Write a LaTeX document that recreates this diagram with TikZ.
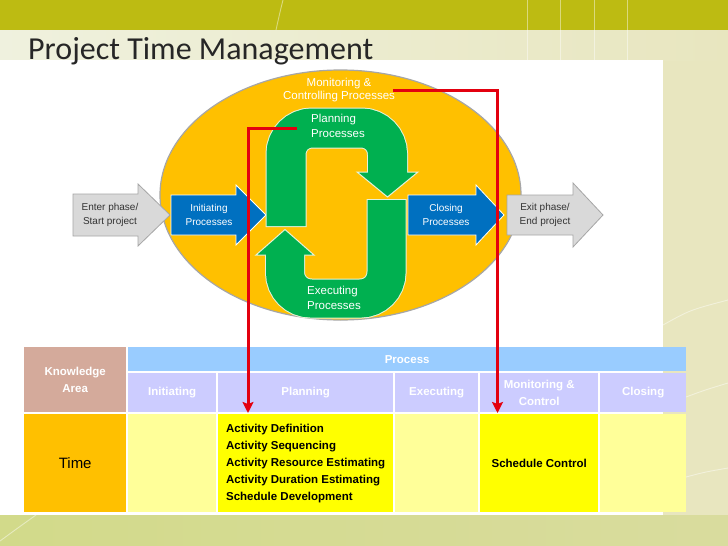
\documentclass[tikz,border=0pt]{standalone}
\usepackage{fontspec}
\setmainfont{Liberation Sans}
\newfontfamily\titlefont{Carlito}
\usetikzlibrary{arrows.meta}
\definecolor{bgOlive}{HTML}{BDBB12}
\definecolor{bgPale}{HTML}{EFF1DE}
\definecolor{bgKhaki}{HTML}{E8E6BF}
\definecolor{bgGreenL}{HTML}{D2DA8A}
\definecolor{bgGreenR}{HTML}{D9DC9E}
\definecolor{ellFill}{HTML}{FFC000}
\definecolor{ellEdge}{HTML}{A6A6A6}
\definecolor{phaseGray}{HTML}{D9D9D9}
\definecolor{phaseInk}{HTML}{333333}
\definecolor{procBlue}{HTML}{0070C0}
\definecolor{procGreen}{HTML}{00B050}
\definecolor{gEdge}{HTML}{E6F2D9}
\definecolor{redLine}{HTML}{E3000F}
\definecolor{kaRose}{HTML}{D4AA9B}
\definecolor{timeOrange}{HTML}{FFC000}
\definecolor{procSky}{HTML}{99CCFF}
\definecolor{procLav}{HTML}{CCCCFF}
\definecolor{ltYel}{HTML}{FFFF99}
\definecolor{yel}{HTML}{FFFF00}
\definecolor{titleInk}{HTML}{262626}
\tikzset{
  % block arrows of the phase flow
  ptm/phase/.style={fill=phaseGray, draw=ellEdge, line width=0.8pt},
  ptm/proc/.style={fill=procBlue, draw=white, line width=0.8pt},
  % the two green loops, drawn as thick strokes
  ptm/hand/.style={line width=39pt, line cap=butt},
  % table cells, placed by their top left corner
  ptm/cell/.style={anchor=north west, inner sep=0pt, align=center, text=white,
    font=\bfseries\fontsize{11.5}{17.5}\selectfont},
  % red pointers from the cycle down to the table
  ptm/cue/.style={draw=redLine, line width=3pt,
    -{Stealth[length=11pt,width=11pt,inset=2pt]}},
}

\begin{document}
\begin{tikzpicture}[x=1pt,y=-1pt,
  lb/.style={font=\fontsize{10}{13.5}\selectfont, align=center, inner sep=0pt},
  gl/.style={font=\fontsize{11.5}{14.5}\selectfont, text=white, align=left, inner sep=0pt},
  list/.style={align=left, inner sep=0pt, text=black, font=\bfseries\fontsize{11.5}{17}\selectfont},
  deco/.style={white, opacity=0.45, line width=0.9pt}]
  \useasboundingbox (0,0) rectangle (728,546);
  \fill[bgKhaki] (0,0) rectangle (728,546);
  \fill[bgOlive] (0,0) rectangle (728,30);
  \shade[left color=bgPale, right color=bgKhaki] (0,30) rectangle (728,60);
  \foreach \x in {527,560,594,627}{\draw[deco] (\x,0) -- (\x,60);}
  \draw[deco] (283,0) .. controls (280,12) .. (276,30);
  \draw[deco] (663,325) .. controls (690,310) .. (728,300);
  \draw[deco] (686,397) .. controls (705,390) .. (728,383);
  \draw[deco] (686,477) .. controls (705,472) .. (728,468);
  \fill[white] (0,60) rectangle (663,515);
  \shade[left color=bgGreenL, right color=bgGreenR] (0,515) rectangle (728,546);
  \draw[deco] (0,541) .. controls (15,530) .. (36,515);
  \node[anchor=base west, inner sep=0pt, text=titleInk,
        font=\titlefont\fontsize{32}{32}\selectfont] (title) at (28,59) {Project Time Management};

  \filldraw[fill=ellFill, draw=ellEdge, line width=1.2pt] (340.5,195) ellipse [x radius=180.5pt, y radius=125pt];
  \filldraw[ptm/phase] (73,194) -- (138,194) -- (138,184) -- (170,215) -- (138,246) -- (138,236) -- (73,236) -- cycle;
  \filldraw[ptm/proc] (171,195) -- (236,195) -- (236,185) -- (266,215) -- (236,245) -- (236,235) -- (171,235) -- cycle;
  \filldraw[ptm/proc] (408,195) -- (476,195) -- (476,185) -- (504,215) -- (476,245) -- (476,235) -- (408,235) -- cycle;
  \filldraw[ptm/phase] (507,195) -- (573,195) -- (573,183) -- (603,215) -- (573,247) -- (573,235) -- (507,235) -- cycle;

  \draw[ptm/hand, line width=41pt, draw=gEdge] (286,227) [rounded corners=26pt] |- (387.5,128) -- (387.5,172);
  \filldraw[fill=procGreen, draw=gEdge, line width=1pt] (357,172) -- (418,172) -- (387.5,197) -- cycle;
  \draw[ptm/hand, draw=procGreen] (286,226) [rounded corners=26pt] |- (387.5,128) -- (387.5,177);
  \draw[ptm/hand, line width=40pt, draw=gEdge] (386.5,199) [rounded corners=26pt] |- (285,298.5) -- (285,255);
  \filldraw[fill=procGreen, draw=gEdge, line width=1pt] (256,255) -- (314,255) -- (285,229.5) -- cycle;
  \draw[ptm/hand, line width=38pt, draw=procGreen] (386.5,200) [rounded corners=26pt] |- (285,298.5) -- (285,251);

  \node[lb, font=\fontsize{11.5}{13.5}\selectfont, text=white] (monLbl) at (339,90) {Monitoring \&\\Controlling Processes};
  \node[gl, anchor=west] (planLbl) at (311,126) {Planning\\Processes};
  \node[gl, anchor=west] (execLbl) at (307,298) {Executing\\Processes};
  \node[lb, text=phaseInk] (enterLbl) at (110,215) {Enter phase/\\Start project};
  \node[lb, text=white] (initLbl) at (209,215) {Initiating\\Processes};
  \node[lb, text=white] (closeLbl) at (446,215) {Closing\\Processes};
  \node[lb, text=phaseInk] (exitLbl) at (545,215) {Exit phase/\\End project};

  \node[ptm/cell, fill=kaRose, minimum width=102pt, minimum height=65pt] (kArea) at (24,347) {Knowledge\\Area};
  \node[ptm/cell, fill=procSky, minimum width=558pt, minimum height=24pt] (procBand) at (128,347) {Process};
  \foreach \x/\w/\t/\n in {128/88/Initiating/Ini, 218/175/Planning/Pla, 395/83/Executing/Exe,
                           480/118/{Monitoring \&\\Control}/Mon, 600/86/Closing/Clo}
    {\node[ptm/cell, fill=procLav, minimum width=\w pt, minimum height=39pt] (h\n) at (\x,373) {\t};}
  \node[ptm/cell, fill=timeOrange, minimum width=102pt, minimum height=98pt, text=black,
        font=\fontsize{15}{18}\selectfont] (kTime) at (24,414) {Time};
  \foreach \x/\w/\c/\n in {128/88/ltYel/Ini, 218/175/yel/Pla, 395/83/ltYel/Exe, 480/118/yel/Mon, 600/86/ltYel/Clo}
    {\node[ptm/cell, fill=\c, minimum width=\w pt, minimum height=98pt] (d\n) at (\x,414) {};}
  \node[list] (planList) at (dPla) {Activity Definition\\Activity Sequencing\\Activity Resource Estimating\\Activity Duration Estimating\\Schedule Development};
  \node[list] (ctrlList) at (dMon) {Schedule Control};

  \coordinate (planSrc) at (297,128);
  \coordinate (planDst) at (248,413);
  \coordinate (monSrc) at (393,90);
  \coordinate (monDst) at (497.5,413);
  \draw[ptm/cue] (planSrc) -| (planDst);
  \draw[ptm/cue] (monSrc) -| (monDst);
\end{tikzpicture}
\end{document}
